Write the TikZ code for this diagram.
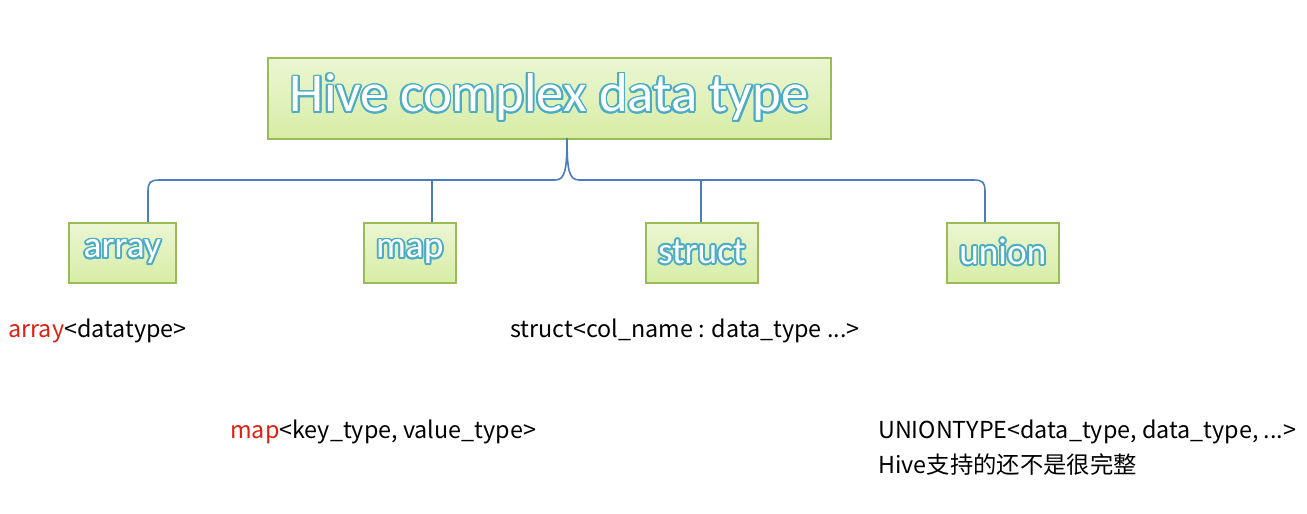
\documentclass[tikz,border=0pt]{standalone}
\usepackage{fontspec}
\setmainfont{Carlito}
\newfontfamily\cjk{Noto Sans CJK SC}
\usepackage[copies]{contour}
\contourlength{1.4pt}
\contournumber{16}
\definecolor{boxfill}{HTML}{D7EDA6}
\definecolor{boxedge}{HTML}{9BBB59}
\definecolor{lnc}{HTML}{4A7EBB}
\definecolor{outl}{HTML}{4BACC6}
\definecolor{kw}{HTML}{E02010}
\newcommand{\glow}[1]{\contour{outl}{\textcolor{white}{#1}}}
\begin{document}
\begin{tikzpicture}[x=0.75pt,y=-0.75pt,
  cbox/.style={draw=boxedge,line width=1.2pt,top color=boxfill!50!white,bottom color=boxfill,
    minimum height=60*0.75pt,anchor=north west,inner sep=0pt,font=\fontsize{28}{30}\selectfont},
  lbl/.style={font=\cjk\fontsize{17.5}{20}\selectfont,anchor=west,inner sep=0pt},
  conn/.style={draw=lnc,line width=1.2pt}]
\useasboundingbox (0,0) rectangle (1307,514);
\fill[white] (0,0) rectangle (1307,514);
\node[cbox,minimum width=563*0.75pt,minimum height=81*0.75pt,font=\fontsize{41}{44}\selectfont] (top) at (267,57) {\glow{Hive complex data type}};
\node[cbox,minimum width=107*0.75pt] (arr) at (68,222) {\glow{array}};
\node[cbox,minimum width=92*0.75pt] (map) at (363,222) {\glow{map}};
\node[cbox,minimum width=112*0.75pt] (str) at (645,222) {\glow{struct}};
\node[cbox,minimum width=112*0.75pt] (uni) at (946,222) {\glow{union}};
\coordinate (peak) at (567,138);
\coordinate (ca) at (148,222);
\coordinate (cu) at (985,222);
\draw[conn] (ca) -- (148,192) .. controls (148,182) and (150,180) .. (160,180)
  -- (555,180) .. controls (565,180) and (567,170) .. (peak)
  .. controls (567,170) and (569,180) .. (579,180) -- (973,180)
  .. controls (983,180) and (985,182) .. (985,192) -- (cu);
\draw[conn] (432,222) -- (432,180);
\draw[conn] (701,222) -- (701,180);
\node[lbl] (t1) at (8,331) {\textcolor{kw}{array}<datatype>};
\node[lbl] (t2) at (230,432) {\textcolor{kw}{map}<key\_type, value\_type>};
\node[lbl] (t3) at (510,331) {struct<col\_name : data\_type ...>};
\node[lbl] (t4) at (878,432) {UNIONTYPE<data\_type, data\_type, ...>};
\node[lbl] (t5) at (878,465) {Hive支持的还不是很完整};
\end{tikzpicture}
\end{document}
